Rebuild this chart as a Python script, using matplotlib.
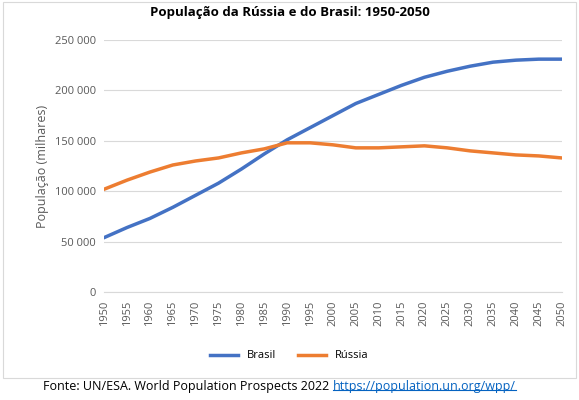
import matplotlib
matplotlib.use("Agg")
import matplotlib.pyplot as plt
import matplotlib.patches as mpatches

years = list(range(1950, 2051, 5))
brasil = [54, 64, 73, 84, 96, 108, 122, 137, 151, 163, 175, 187, 196, 205, 213, 219, 224, 228, 230, 231, 231]
russia = [102, 111, 119, 126, 130, 133, 138, 142, 148, 148, 146, 143, 143, 144, 145, 143, 140, 138, 136, 135, 133]
yticks = [0, 50, 100, 150, 200, 250]

plt.rcParams['font.family'] = ['Open Sans', 'DejaVu Sans']

fig = plt.figure(figsize=(5.79, 4), dpi=100)
# chart border
fig.patches.append(mpatches.Rectangle((0.005, 0.055), 0.99, 0.94, transform=fig.transFigure,
                                      fill=False, edgecolor='#d9d9d9', lw=0.8))
ax = fig.add_axes([0.18, 0.27, 0.79, 0.63])

ax.plot(years, [v * 1000 for v in brasil], color='#4472c4', lw=2.5, label='Brasil')
ax.plot(years, [v * 1000 for v in russia], color='#ed7d31', lw=2.5, label='Rússia')

ax.set_xlim(1950, 2050)
ax.set_ylim(0, 250000)
ax.set_xticks(years)
ax.set_xticklabels([str(y) for y in years], rotation=90, fontsize=8, color='#595959')
ax.set_yticks([t * 1000 for t in yticks])
ax.set_yticklabels([f"{t} 000" if t else "0" for t in yticks], fontsize=8, color='#595959')
ax.grid(axis='y', color='#d9d9d9', lw=0.8)
ax.set_axisbelow(True)
for s in ['top', 'right', 'left']:
    ax.spines[s].set_visible(False)
ax.spines['bottom'].set_color('#d9d9d9')
ax.tick_params(length=0, pad=6)
ax.set_ylabel('População (milhares)', fontsize=9, color='#595959')

fig.suptitle('População da Rússia e do Brasil: 1950-2050', fontsize=9.5, fontweight='bold',
             x=0.5, y=0.985, va='top')
fig.legend(loc='center', bbox_to_anchor=(0.5, 0.11), ncol=2, frameon=False, fontsize=8,
           handlelength=2.5, columnspacing=2)

# caption with hyperlink-styled part placed right after the plain text
t1 = fig.text(0.075, 0.018, 'Fonte: UN/ESA. World Population Prospects 2022 ', fontsize=9, va='bottom')
fig.canvas.draw()
bb = t1.get_window_extent().transformed(fig.transFigure.inverted())
t2 = fig.text(bb.x1, 0.018, 'https://population.un.org/wpp/', fontsize=9, va='bottom', color='#0563c1')
fig.canvas.draw()
bb2 = t2.get_window_extent().transformed(fig.transFigure.inverted())
fig.add_artist(plt.Line2D([bb2.x0, bb2.x1], [bb2.y0 + 0.006, bb2.y0 + 0.006], color='#0563c1', lw=0.8))

fig.savefig('out.png', dpi=100)
